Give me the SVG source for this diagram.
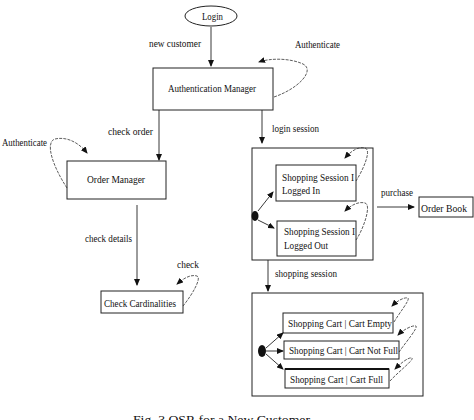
<svg xmlns="http://www.w3.org/2000/svg" width="474" height="420" viewBox="0 0 474 420">
<style>
.t{font-family:"Liberation Serif","Times New Roman",serif;font-size:11px;fill:#111}
.b{fill:#fff;stroke:#222;stroke-width:1}
.o{fill:none;stroke:#222;stroke-width:1}
.c{fill:none;stroke:#222;stroke-width:0.9}
.l{fill:none;stroke:#333;stroke-width:0.8;stroke-dasharray:3 1.2}
</style>
<defs>
<marker id="ah" markerUnits="userSpaceOnUse" markerWidth="7" markerHeight="6" refX="6" refY="3" orient="auto">
<path d="M0,0 L7,3 L0,6 z" fill="#111"/>
</marker>
</defs>
<rect width="474" height="420" fill="#fff"/>

<g id="login">
<ellipse class="b" cx="211" cy="16" rx="26" ry="10"/>
<text class="t" x="202" y="20" textLength="21" lengthAdjust="spacingAndGlyphs">Login</text>
</g>
<g id="auth-manager">
<rect class="b" x="153" y="68" width="120" height="42"/>
<text class="t" x="168" y="92" textLength="88" lengthAdjust="spacingAndGlyphs">Authentication Manager</text>
</g>
<g id="order-manager">
<rect class="b" x="67" y="161" width="99" height="38"/>
<text class="t" x="87" y="183" textLength="58" lengthAdjust="spacingAndGlyphs">Order Manager</text>
</g>
<g id="check-cardinalities">
<rect class="b" x="101" y="291" width="82" height="22"/>
<text class="t" x="104" y="307" textLength="72" lengthAdjust="spacingAndGlyphs">Check Cardinalities</text>
</g>
<g id="shopping-session">
<rect class="o" x="252" y="148" width="121" height="112"/>
<ellipse cx="255" cy="216" rx="3.5" ry="5" fill="#111"/>
<g id="session-logged-in">
<rect class="b" x="276" y="165" width="80" height="36"/>
<text class="t" x="282" y="181" textLength="72" lengthAdjust="spacingAndGlyphs">Shopping Session I</text>
<text class="t" x="282" y="194" textLength="38" lengthAdjust="spacingAndGlyphs">Logged In</text>
</g>
<g id="session-logged-out">
<rect class="b" x="277" y="221" width="79" height="35"/>
<text class="t" x="284" y="235" textLength="71" lengthAdjust="spacingAndGlyphs">Shopping Session I</text>
<text class="t" x="284" y="249" textLength="44" lengthAdjust="spacingAndGlyphs">Logged Out</text>
</g>
</g>
<g id="order-book">
<rect class="b" x="419" y="197" width="54" height="20"/>
<text class="t" x="421" y="212" textLength="46" lengthAdjust="spacingAndGlyphs">Order Book</text>
</g>
<g id="shopping-cart">
<rect class="o" x="252" y="293" width="171" height="103"/>
<ellipse cx="262" cy="351" rx="4" ry="6" fill="#111"/>
<g id="cart-empty">
<rect class="b" x="283" y="313" width="110" height="20"/>
<text class="t" x="288" y="327" textLength="104" lengthAdjust="spacingAndGlyphs">Shopping Cart | Cart Empty</text>
</g>
<g id="cart-not-full">
<rect class="b" x="284" y="341" width="115" height="18"/>
<text class="t" x="289" y="354" textLength="109" lengthAdjust="spacingAndGlyphs">Shopping Cart | Cart Not Full</text>
</g>
<g id="cart-full">
<rect class="b" x="285" y="369" width="104" height="19"/>
<line x1="285" y1="369" x2="389" y2="369" stroke="#111" stroke-width="1.8"/>
<text class="t" x="290" y="383" textLength="93" lengthAdjust="spacingAndGlyphs">Shopping Cart | Cart Full</text>
</g>
</g>

<g id="connectors">
<path class="c" d="M211,27 L211,66" marker-end="url(#ah)"/>
<path class="c" d="M159,110 L159,160" marker-end="url(#ah)"/>
<path class="c" d="M262,110 L262,143" marker-end="url(#ah)"/>
<path class="c" d="M137,205 L137,285" marker-end="url(#ah)"/>
<path class="c" d="M258,211 L273,192" marker-end="url(#ah)"/>
<path class="c" d="M258,220 L274,228" marker-end="url(#ah)"/>
<path class="c" d="M377,207 L414,207" marker-end="url(#ah)"/>
<path class="c" d="M268,260 L268,291" marker-end="url(#ah)"/>
<path class="c" d="M266,348 L283,333" marker-end="url(#ah)"/>
<path class="c" d="M266,351 L283,351" marker-end="url(#ah)"/>
<path class="c" d="M266,354 L283,369" marker-end="url(#ah)"/>
<path class="l" d="M274,97 C300,88 315,70 303,64 C290,58 270,58 259,62" marker-end="url(#ah)"/>
<path class="l" d="M67,188 C52,165 45,142 55,139 C68,136 80,144 87,153" marker-end="url(#ah)"/>
<path class="l" d="M183,306 C192,295 202,278 197,276 C190,274 183,279 177,284" marker-end="url(#ah)"/>
<path class="l" d="M356,181 C363,170 372,150 365,148 C358,146 350,152 345,158" marker-end="url(#ah)"/>
<path class="l" d="M356,240 C363,230 372,205 365,203 C358,201 350,206 345,211" marker-end="url(#ah)"/>
<path class="l" d="M394,322 C400,312 410,300 408,298 C404,297 397,301 392,306" marker-end="url(#ah)"/>
<path class="l" d="M399,352 C406,342 418,328 416,326 C412,325 403,330 398,335" marker-end="url(#ah)"/>
<path class="l" d="M390,381 C398,372 414,360 412,358 C408,357 400,364 395,369" marker-end="url(#ah)"/>
<text class="t" x="149" y="47" textLength="52" lengthAdjust="spacingAndGlyphs">new customer</text>
<text class="t" x="295" y="48" textLength="45" lengthAdjust="spacingAndGlyphs">Authenticate</text>
<text class="t" x="108" y="135" textLength="45" lengthAdjust="spacingAndGlyphs">check order</text>
<text class="t" x="2" y="146" textLength="45" lengthAdjust="spacingAndGlyphs">Authenticate</text>
<text class="t" x="85" y="242" textLength="47" lengthAdjust="spacingAndGlyphs">check details</text>
<text class="t" x="177" y="268" textLength="22" lengthAdjust="spacingAndGlyphs">check</text>
<text class="t" x="272" y="132" textLength="47" lengthAdjust="spacingAndGlyphs">login session</text>
<text class="t" x="381" y="196" textLength="32" lengthAdjust="spacingAndGlyphs">purchase</text>
<text class="t" x="275" y="277" textLength="62" lengthAdjust="spacingAndGlyphs">shopping session</text>
</g>
<text class="t" x="133" y="424" style="font-size:13px" textLength="177" lengthAdjust="spacingAndGlyphs">Fig. 3 OSR for a New Customer</text>
</svg>
